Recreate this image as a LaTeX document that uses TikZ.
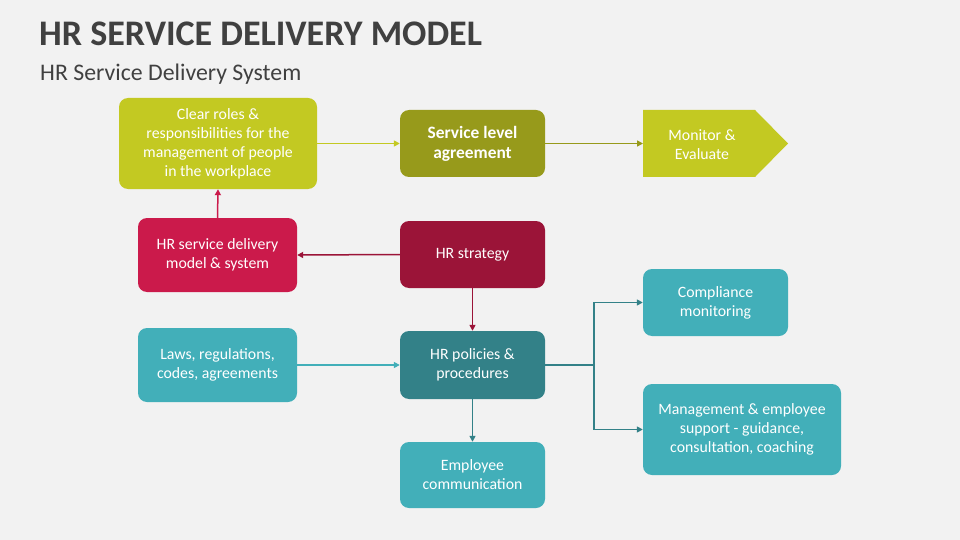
\documentclass[tikz,border=0pt]{standalone}
\usepackage{fontspec}
\setmainfont{Carlito}
\usetikzlibrary{arrows.meta}
\definecolor{bg}{HTML}{F2F2F2}
\definecolor{titlegray}{HTML}{404040}
\definecolor{lime}{HTML}{C3C922}
\definecolor{olive}{HTML}{979A1B}
\definecolor{crimson}{HTML}{CB1A4B}
\definecolor{wine}{HTML}{9B1438}
\definecolor{tealL}{HTML}{42AFB9}
\definecolor{tealD}{HTML}{338188}
\tikzset{
  box/.style={rounded corners=9pt, text=white, align=center, inner sep=0pt, font=\fontsize{15.8}{19}\selectfont},
  conn/.style={line width=1.5pt, -{Triangle[length=6pt,width=6pt]}},
}
\begin{document}
\begin{tikzpicture}[x=1pt,y=-1pt]
\fill[bg] (0,0) rectangle (960,540);
\useasboundingbox (0,0) rectangle (960,540);
\node[anchor=base west, text=titlegray, font=\fontsize{36}{40}\selectfont\bfseries, inner sep=0] (title) at (39,46) {HR SERVICE DELIVERY MODEL};
\node[anchor=base west, text=titlegray, font=\fontsize{23.8}{28}\selectfont, inner sep=0] (sub) at (40,81) {HR Service Delivery System};

\node[box, fill=lime, minimum width=198pt, minimum height=91pt] (clear) at (218,143.5) {Clear roles \&\\responsibilities for the\\management of people\\in the workplace};
\node[box, fill=olive, minimum width=145pt, minimum height=67pt, font=\fontsize{17.4}{20}\selectfont\bfseries] (sla) at (472.5,143.5) {Service level\\agreement};
\fill[lime] (643,110) -- (755,110) -- (788,143.5) -- (755,177) -- (643,177) -- cycle;
\node[box, minimum width=112pt, minimum height=67pt] (mon) at (702,144.5) {Monitor \&\\Evaluate};
\coordinate (monw) at (643,143.5);

\node[box, fill=crimson, minimum width=159pt, minimum height=74pt] (model) at (217.5,255) {HR service delivery\\model \& system};
\node[box, fill=wine, minimum width=145pt, minimum height=67pt] (strat) at (472.5,254.5) {HR strategy};
\node[box, fill=tealL, minimum width=159pt, minimum height=74pt] (laws) at (217.5,365) {Laws, regulations,\\codes, agreements};
\node[box, fill=tealD, minimum width=145pt, minimum height=68pt] (pol) at (472.5,365) {HR policies \&\\procedures};
\node[box, fill=tealL, minimum width=145pt, minimum height=67pt] (comp) at (715.5,302.5) {Compliance\\monitoring};
\node[box, fill=tealL, minimum width=198pt, minimum height=91pt] (mgmt) at (742,429.5) {Management \& employee\\support - guidance,\\consultation, coaching};
\node[box, fill=tealL, minimum width=145pt, minimum height=66pt] (emp) at (472.5,475) {Employee\\communication};
\coordinate (branch) at (594,365);

\draw[conn, lime] (clear.east) -- (sla.west);
\draw[conn, olive] (sla.east) -- (monw);
\draw[conn, wine] (strat.west) -- (model.east);
\draw[conn, crimson] (model.north) -- (clear.south);
\draw[conn, wine] (strat.south) -- (pol.north);
\draw[conn, tealL] (laws.east) -- (pol.west);
\draw[line width=1.5pt, tealD] (pol.east) -- (branch);
\draw[conn, tealD] (branch) |- (comp.west);
\draw[conn, tealD] (branch) |- (mgmt.west);
\draw[conn, tealD] (pol.south) -- (emp.north);
\end{tikzpicture}
\end{document}
